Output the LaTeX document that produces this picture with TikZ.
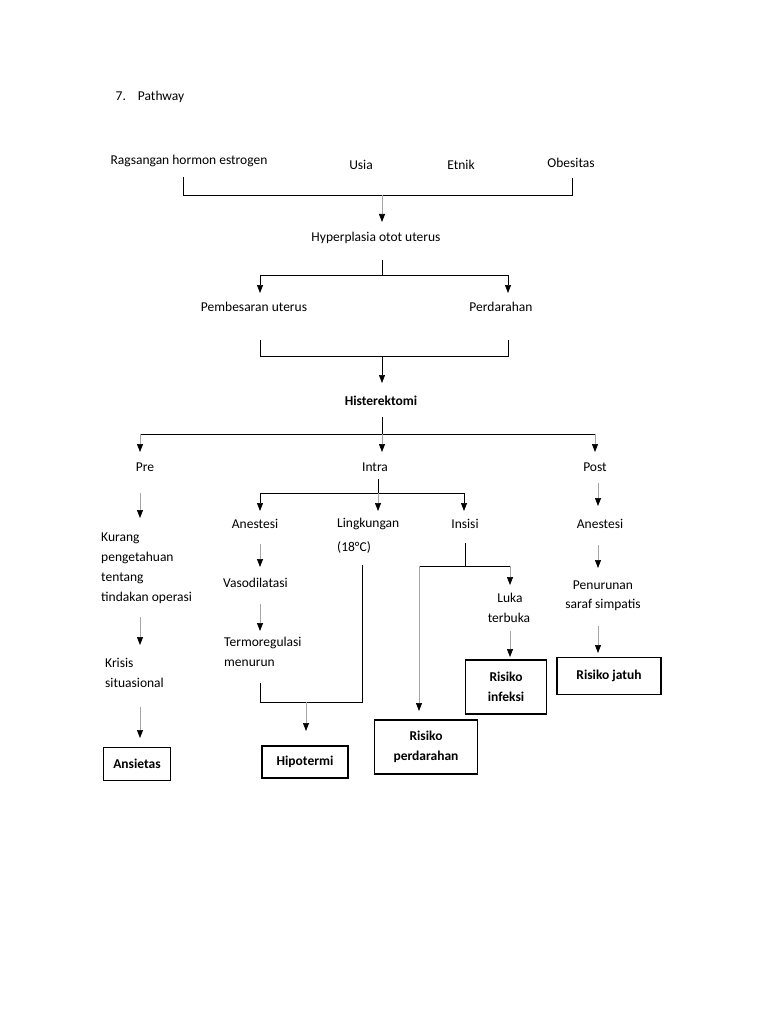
\documentclass[tikz,border=0pt]{standalone}
\usepackage{fontspec}
\setmainfont{Carlito}
\usetikzlibrary{arrows.meta}
\begin{document}
\begin{tikzpicture}[x=1pt,y=-1pt,
  t/.style={font=\fontsize{13.5}{20}\selectfont, inner sep=0pt, align=left},
  tb/.style={t, font=\fontsize{13.5}{20}\selectfont\bfseries, align=center},
  box/.style={draw, line width=1.6pt},
  ln/.style={line width=0.9pt},
  ar/.style={draw=gray!70, line width=0.7pt, -{Triangle[color=black,length=8pt,width=6pt]}},
  bar/.style={line width=0.9pt}]
\useasboundingbox (0,0) rectangle (768,1024);
\node[t] (p7) at (150,97) {7.\hspace{12pt}Pathway};
\node[t] (rag) at (189,161) {Ragsangan hormon estrogen};
\node[t] (usia) at (361,165) {Usia};
\node[t] (etnik) at (461,165) {Etnik};
\node[t] (obes) at (571,163) {Obesitas};
\draw[bar] (183,177) -- (183,195) -- (572,195) -- (572,178);
\coordinate (b1) at (382,195);
\node[t] (hyp) at (376,238) {Hyperplasia otot uterus};
\draw[ar] (b1) -- (382,222);
\draw[bar] (382,260) -- (382,275);
\draw[bar] (260,275) -- (508,275);
\coordinate (b2l) at (260,275); \coordinate (b2r) at (508,275);
\draw[ar,draw=black] (b2l) -- (260,293);
\draw[ar,draw=black] (b2r) -- (508,293);
\node[t] (pemb) at (254,307) {Pembesaran uterus};
\node[t] (perd) at (501,307) {Perdarahan};
\draw[bar] (260,340) -- (260,356) -- (508,356) -- (508,340);
\coordinate (b3) at (382,356);
\draw[ar,draw=black] (b3) -- (382,383);
\node[tb] (his) at (381,401) {Histerektomi};
\draw[bar] (382,417) -- (382,434);
\draw[bar] (140,434) -- (595,434);
\coordinate (c1) at (140,434); \coordinate (c2) at (382,434); \coordinate (c3) at (595,434);
\draw[ar] (c1) -- (140,452);
\draw[ar] (c2) -- (382,452);
\draw[ar] (c3) -- (595,452);
\node[t] (pre) at (145,467) {Pre};
\node[t] (intra) at (375,467) {Intra};
\node[t] (post) at (595,467) {Post};
% Intra branches
\draw[bar] (378,479) -- (378,493);
\draw[bar] (260,493) -- (464,493);
\draw[ar,draw=black] (260,493) -- (260,511);
\draw[ar] (378,493) -- (378,511);
\draw[ar,draw=black] (464,493) -- (464,511);
\node[t] (an1) at (255,524) {Anestesi};
\node[t, anchor=west] (ling) at (337,524) {Lingkungan};
\node[t, anchor=west] (c18) at (337,547) {(18°C)};
\node[t] (ins) at (465,524) {Insisi};
% Pre column
\draw[ar] (140,493) -- (140,518);
\node[t, anchor=north west, align=left] (kur) at (101,533) {Kurang\\pengetahuan\\tentang\\tindakan operasi};
\draw[ar] (140,617) -- (140,645);
\node[t, anchor=north west] (kri) at (105,658) {Krisis\\situasional};
\draw[ar] (140,707) -- (140,738);
\node[tb, box, minimum width=67pt, minimum height=33pt] (ans) at (137,764) {Ansietas};
% Anestesi column
\draw[ar] (260,544) -- (260,567);
\node[t, anchor=west] (vas) at (223,583) {Vasodilatasi};
\draw[ar] (260,604) -- (260,631);
\node[t, anchor=north west] (ter) at (224,637) {Termoregulasi\\menurun};
\draw[bar] (260,683) -- (260,702) -- (362,702) -- (362,565);
\coordinate (hj) at (306,702);
\draw[ar] (hj) -- (306,731);
\node[tb, box, minimum width=86pt, minimum height=32pt] (hip) at (305,762) {Hipotermi};
% Insisi column
\draw[bar] (465,543) -- (465,566);
\draw[bar] (419,566) -- (510,566);
\coordinate (il) at (419,566); \coordinate (ir) at (510,566);
\draw[ar] (ir) -- (510,585);
\draw[ar] (il) -- (419,711);
\node[t] (luka) at (510,598) {Luka};
\node[t] (terb) at (509,618) {terbuka};
\draw[ar] (510,631) -- (510,657);
\node[tb, box, minimum width=81pt, minimum height=54pt] (inf) at (506,687) {Risiko\\infeksi};
\node[tb, box, minimum width=103pt, minimum height=54pt] (rp) at (426,747) {Risiko\\perdarahan};
% Post column
\draw[ar] (598,483) -- (598,506);
\node[t] (an2) at (600,524) {Anestesi};
\draw[ar] (598,545) -- (598,568);
\node[t] (pen) at (603,585) {Penurunan};
\node[t] (sar) at (603,605) {saraf simpatis};
\draw[ar] (598,626) -- (598,653);
\node[tb, box, minimum width=104pt, minimum height=37pt] (jat) at (609,676) {Risiko jatuh};
\end{tikzpicture}
\end{document}
